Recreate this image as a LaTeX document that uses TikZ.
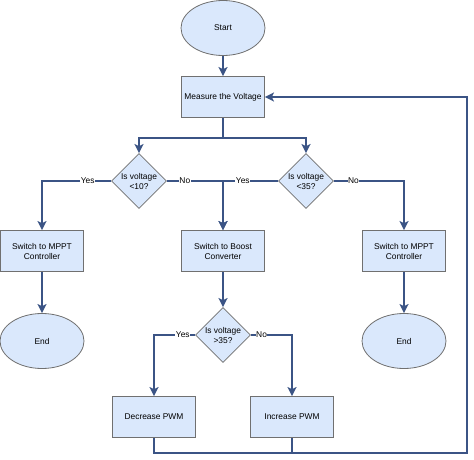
\documentclass[tikz,border=0pt]{standalone}
\usepackage{fontspec}
\setmainfont{Liberation Sans}
\usetikzlibrary{shapes.geometric,arrows.meta}
\definecolor{boxfill}{HTML}{DAE8FC}
\definecolor{boxline}{HTML}{707070}
\definecolor{flowline}{HTML}{3B5485}
\tikzset{
  block/.style={rectangle,draw=boxline,fill=boxfill,line width=0.8pt,
    minimum width=83pt,minimum height=41pt,align=center,inner sep=1pt},
  terminal/.style={ellipse,draw=boxline,fill=boxfill,line width=0.8pt,
    minimum width=84pt,minimum height=55pt,inner sep=1pt},
  decision/.style={diamond,draw=boxline,fill=boxfill,line width=0.8pt,
    minimum width=55pt,minimum height=55pt,align=center,inner sep=-3pt},
  flow/.style={draw=flowline,line width=2.2pt},
  arrow/.style={flow,-{Stealth[length=9pt,width=9pt,inset=2pt]}},
  answer/.style={fill=white,inner sep=0.5pt}
}
\begin{document}
\begin{tikzpicture}[x=1pt,y=-1pt,font=\fontsize{8.4}{10}\selectfont]
      \useasboundingbox (0,0) rectangle (474,460);
      \node[terminal] (start) at (223,28) {Start};
      \node[block] (measure) at (223,97) {Measure the Voltage};
      \node[decision] (q1) at (139,181) {Is voltage\\<10?};
      \node[decision] (q2) at (306,181) {Is voltage\\<35?};
      \node[block] (mpptL) at (42,251) {Switch to MPPT\\Controller};
      \node[block] (boost) at (223,251) {Switch to Boost\\Converter};
      \node[block] (mpptR) at (404,251) {Switch to MPPT\\Controller};
      \node[terminal] (endL) at (42,341) {End};
      \node[terminal] (endR) at (404,341) {End};
      \node[decision] (q3) at (223,335) {Is voltage\\>35?};
      \node[block] (dec) at (154,417) {Decrease PWM};
      \node[block] (inc) at (292,417) {Increase PWM};
      \coordinate (split) at (223,138);
      \coordinate (base) at (467,453);
      \begin{scope}[arrow]
        \draw (start) -- (measure);
        \draw (split) -| (q1);
        \draw (split) -| (q2);
        \draw (q1.west) -| node[answer,pos=0.17] {Yes} (mpptL);
        \draw (q1.east) -| node[answer,pos=0.16] {No} (boost);
        \draw (q2.west) -| node[answer,pos=0.32] {Yes} (boost);
        \draw (q2.east) -| node[answer,pos=0.14] {No} (mpptR);
        \draw (mpptL) -- (endL);
        \draw (mpptR) -- (endR);
        \draw (boost) -- (q3);
        \draw (q3.west) -| node[answer,pos=0.15] {Yes} (dec);
        \draw (q3.east) -| node[answer,pos=0.13] {No} (inc);
        \draw (dec) |- (base) |- (measure);
      \end{scope}
      \draw[flow] (measure) -- (split);
      \draw[flow] (inc) -- (inc |- base);
    \end{tikzpicture}
\end{document}
